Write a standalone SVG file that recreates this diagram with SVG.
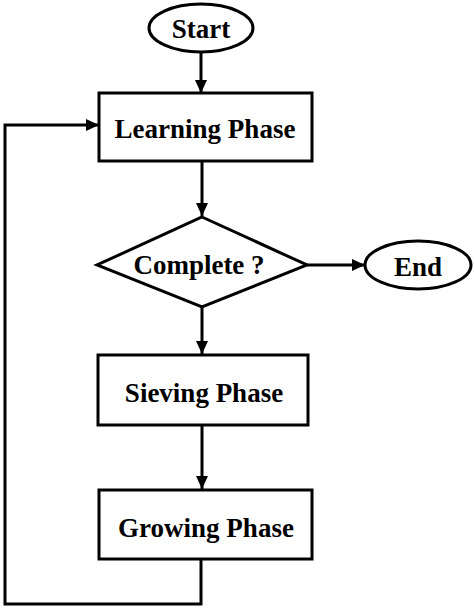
<svg xmlns="http://www.w3.org/2000/svg" width="474" height="610" viewBox="0 0 474 610">
<style>
.s{fill:#fff;stroke:#000;stroke-width:3}
.t{font-family:"Liberation Serif","Times New Roman",serif;font-weight:bold;font-size:27px;fill:#000;text-anchor:middle}
.c{fill:none;stroke:#000;stroke-width:3}
</style>
<defs>
<marker id="ah" markerUnits="userSpaceOnUse" markerWidth="14" markerHeight="12" refX="13" refY="6" orient="auto">
<path d="M0,0 L13,6 L0,12 Z" fill="#000"/>
</marker>
</defs>
<rect width="474" height="610" fill="#fff"/>
<g id="connectors">
<line class="c" x1="201" y1="53" x2="201" y2="93" marker-end="url(#ah)"/>
<line class="c" x1="202" y1="162" x2="202" y2="216" marker-end="url(#ah)"/>
<line class="c" x1="307" y1="265" x2="365" y2="265" marker-end="url(#ah)"/>
<line class="c" x1="202" y1="307" x2="202" y2="354" marker-end="url(#ah)"/>
<line class="c" x1="202" y1="425" x2="202" y2="489" marker-end="url(#ah)"/>
<polyline class="c" points="201,560 201,604 5,604 5,125 99,125" marker-end="url(#ah)"/>
</g>
<g id="start">
<ellipse class="s" cx="201" cy="28" rx="52" ry="24"/>
<text class="t" x="201" y="38">Start</text>
</g>
<g id="learning">
<rect class="s" x="99" y="93" width="213" height="68"/>
<text class="t" x="205" y="138">Learning Phase</text>
</g>
<g id="complete">
<polygon class="s" points="202,217 307,265 202,307 97,265"/>
<text class="t" x="199" y="274">Complete ?</text>
</g>
<g id="end">
<ellipse class="s" cx="418" cy="265" rx="53" ry="24"/>
<text class="t" x="418" y="276">End</text>
</g>
<g id="sieving">
<rect class="s" x="98" y="355" width="210" height="70"/>
<text class="t" x="204" y="402">Sieving Phase</text>
</g>
<g id="growing">
<rect class="s" x="99" y="490" width="213" height="69"/>
<text class="t" x="206" y="537">Growing Phase</text>
</g>
</svg>
